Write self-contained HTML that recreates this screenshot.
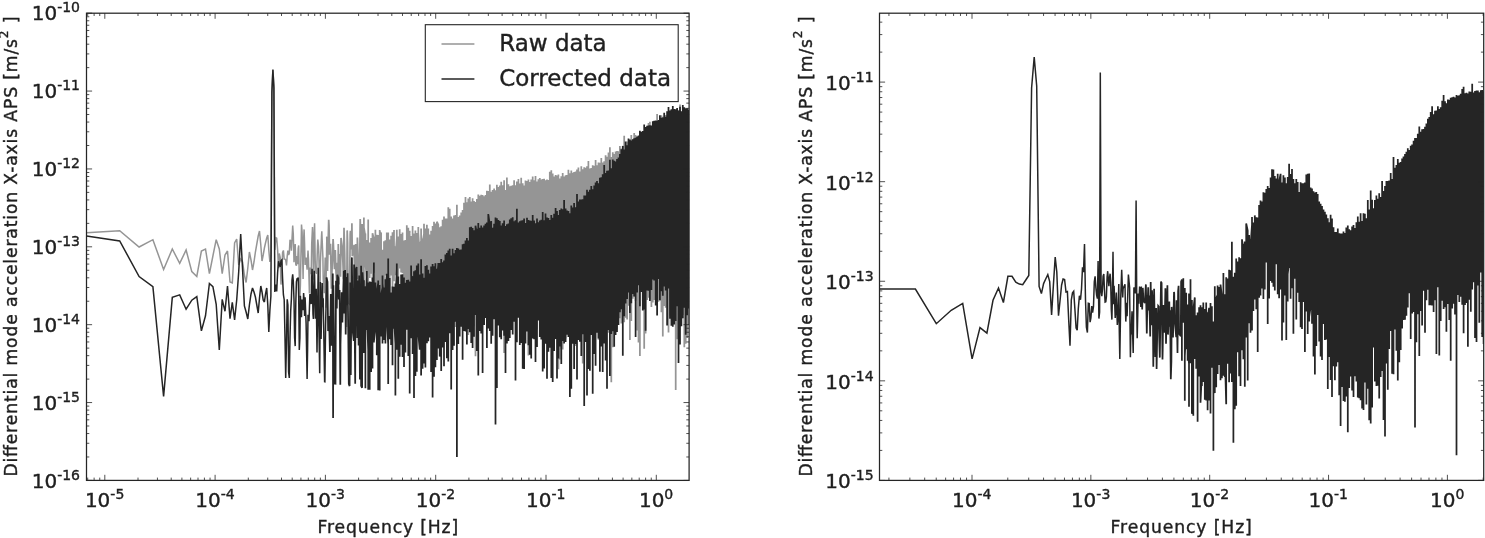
<!DOCTYPE html>
<html lang="en"><head><meta charset="utf-8"><title>Differential mode acceleration APS</title>
<style>html,body{margin:0;padding:0;background:#fff}body{width:1485px;height:538px;overflow:hidden}svg{display:block}text{stroke:#1f1f1f;stroke-width:.4px}</style></head>
<body>
<svg width="1485" height="538" viewBox="0 0 1485 538" font-family="'DejaVu Sans','Liberation Sans',sans-serif" fill="#1f1f1f">
<defs><clipPath id="cl"><rect x="86.50" y="13.20" width="602.60" height="467.20"/></clipPath><clipPath id="cr"><rect x="879.50" y="13.20" width="604.20" height="467.20"/></clipPath></defs>
<rect width="1485" height="538" fill="#fff"/>
<polyline clip-path="url(#cl)" fill="none" stroke="#959595" stroke-width="1.50" stroke-linejoin="miter" stroke-miterlimit="3" points="86.5,232.7 119.7,230.7 139.1,247.0 152.9,239.7 163.6,269.5 172.3,249.0 179.7,263.4 186.1,250.0 191.8,271.6 196.8,276.5 201.4,251.0 205.5,249.0 209.4,273.6 212.9,256.0 216.2,239.7 219.3,249.0 222.2,273.6 225.0,255.0 227.5,251.0 230.0,282.0 232.3,283.0 234.6,243.0 236.7,239.0 238.7,265.0 240.7,259.0 242.6,262.0 244.4,275.0 246.1,282.5 247.8,268.0 249.4,252.0 251.0,260.0 252.5,270.0 254.0,262.0 255.4,252.0 256.8,244.0 258.2,236.0 259.5,231.0 260.8,245.0 262.0,261.0 263.2,255.0 264.4,248.0 265.5,243.0 266.7,238.0 267.8,235.0 268.8,250.0 269.9,262.0 270.9,255.0 271.9,90.0 272.9,69.0 273.9,86.0 274.8,250.0 275.8,237.8 276.7,238.3 277.6,249.4 278.5,268.2 279.3,253.5 280.2,257.4 281.0,284.6 281.8,270.4 282.6,252.5 283.4,250.4 284.2,259.0 285.0,259.1 285.7,259.8 286.5,265.4 287.2,256.1 287.9,250.5 288.6,254.9 289.3,253.4 290.0,239.9 290.7,240.9 291.4,250.6 292.0,239.4 292.7,225.6 293.3,234.2 294.0,262.3 294.6,252.5 295.2,244.1 295.8,264.6 296.4,265.7 297.0,256.0 297.6,264.3 298.2,248.4 298.7,245.4 299.3,278.9 299.9,297.3 300.4,285.1 301.5,224.5 302.1,231.9 303.1,279.1 303.6,239.4 304.1,229.4 304.6,244.6 305.1,265.0 306.1,257.6 307.1,269.7 308.0,250.6 308.5,259.0 309.4,293.5 309.9,267.5 311.2,274.0 311.7,244.1 312.5,227.0 313.0,244.0 313.4,279.8 314.2,232.2 314.6,223.2 315.4,271.8 316.6,273.8 317.4,248.9 317.8,239.6 318.5,246.6 318.9,254.7 319.7,327.1 320.4,262.0 321.5,236.5 321.8,231.2 322.9,257.3 323.2,278.9 324.2,293.3 325.2,257.5 325.9,307.8 326.2,274.8 326.8,236.7"/>
<polyline clip-path="url(#cl)" fill="none" stroke="#959595" stroke-width="1.75" stroke-linejoin="miter" stroke-miterlimit="3" points="326.8,236.7 327.5,270.9 328.7,219.7 329.0,225.4 329.6,254.7 330.5,243.7 331.4,288.8 332.0,271.8 333.1,239.1 333.4,244.5 334.5,269.3 335.3,250.1 335.8,268.5 336.6,280.9 337.3,262.8 337.8,296.6 338.3,243.9 339.1,284.6 339.6,254.0 340.5,276.7 341.0,237.9 342.0,245.3 342.9,261.8 343.5,279.3 344.0,227.8 344.7,254.3 345.5,308.7 346.6,327.0 347.2,230.4 347.6,243.0 348.0,302.3 349.4,303.8 350.2,234.3 350.4,230.8 351.6,249.5 351.9,223.2 352.3,256.2 354.1,244.9 354.5,270.1 355.0,318.7 355.6,244.1 357.1,279.0 357.4,237.5 357.6,242.4 358.6,273.1 359.2,302.5 360.2,219.1 361.1,246.2 361.1,313.6 361.1,238.1 361.1,254.2 362.1,224.1 362.4,283.7 363.9,239.5 363.9,217.5 363.9,310.5 363.9,227.3 365.4,236.4 365.4,233.6 365.4,263.9 366.8,277.7 366.8,320.8 366.8,240.1 366.8,268.6 368.2,313.5 368.2,219.6 368.2,315.6 368.2,243.7 369.7,250.1 369.7,277.9 369.7,242.6 371.1,248.1 371.1,238.0 371.1,273.8 371.1,247.9 372.5,255.6 372.5,280.5 372.5,233.3 373.9,238.8 373.9,272.7 373.9,254.5 375.4,235.7 375.4,229.8 375.4,283.0 375.4,276.0 376.8,289.6 376.8,290.9 376.8,234.8 376.8,275.8 378.2,271.2 378.2,290.7 378.2,234.9 378.2,259.1 379.7,268.6 379.7,230.1 379.7,284.5 379.7,231.4 381.1,233.4 381.1,301.0 381.1,250.2 382.5,256.8 382.5,249.7 382.5,302.5 382.5,261.1 384.0,265.2 384.0,241.3 384.0,290.7 384.0,254.9 385.4,254.7 385.4,240.3 385.4,275.4 385.4,274.0 386.8,248.4 386.8,232.5 386.8,286.3 386.8,252.6 388.2,244.3 388.2,279.7 388.2,232.4 388.2,244.9 389.7,239.5 389.7,299.5 389.7,270.3 391.1,247.7 391.1,235.7 391.1,275.6 391.1,259.7 392.5,272.9 392.5,324.0 392.5,232.2 392.5,261.4 394.0,234.6 394.0,230.0 394.0,281.3 394.0,270.9 395.4,275.1 395.4,246.3 395.4,257.2 396.8,237.7 396.8,229.7 396.8,332.7 396.8,258.9 398.3,260.4 398.3,236.5 398.3,283.4 398.3,243.1 399.7,254.8 399.7,268.4 399.7,229.2 399.7,241.8 401.1,234.2 401.1,234.1 401.1,272.4 401.1,253.1 402.5,238.6 402.5,232.5 402.5,273.2 402.5,270.5 404.0,263.3 404.0,240.6 404.0,279.4 404.0,254.0 405.4,243.9 405.4,306.7 405.4,240.1 405.4,295.5 406.8,270.4 406.8,225.2 406.8,290.4 406.8,260.3 408.3,251.9 408.3,318.5 408.3,227.8 408.3,233.6 409.7,233.1 409.7,230.7 409.7,288.6 409.7,251.2 411.1,246.6 411.1,235.9 411.1,275.5 411.1,240.9 412.6,271.1 412.6,298.5 412.6,226.1 412.6,261.3 414.0,262.4 414.0,311.0 414.0,233.6 414.0,268.0 415.4,259.8 415.4,230.6 415.4,288.7 415.4,244.4 416.8,255.7 416.8,330.6 416.8,232.9 416.8,245.1 418.3,243.7 418.3,315.7 418.3,227.0 418.3,232.7 419.7,256.0 419.7,280.4 419.7,243.9 419.7,244.3 421.1,241.0 421.1,228.6 421.1,272.9 422.6,261.5 422.6,238.6 422.6,306.7 422.6,241.8 424.0,233.8 424.0,223.7 424.0,281.6 424.0,250.0 425.4,248.8 425.4,228.4 425.4,313.4 425.4,277.5 426.9,277.3 426.9,303.8 426.9,224.8 426.9,247.0 428.3,251.1 428.3,228.5 428.3,294.8 428.3,244.6 429.7,237.1 429.7,234.4 429.7,303.3 429.7,247.5 431.1,237.2 431.1,309.6 431.1,230.8 431.1,253.8 432.6,260.2 432.6,226.0 432.6,291.7 432.6,245.1 434.0,237.3 434.0,293.5 434.0,221.8 434.0,240.6 435.4,230.1 435.4,280.4 435.4,223.6 435.4,263.2 436.9,243.1 436.9,288.3 436.9,221.7 438.3,224.6 438.3,283.0 438.3,260.2 439.7,243.3 439.7,279.5 439.7,227.3 439.7,234.9 441.2,233.5 441.2,278.9 441.2,226.3 441.2,240.5 442.6,247.9 442.6,299.6 442.6,219.7 442.6,244.1 444.0,247.9 444.0,216.5 444.0,306.5 444.0,220.8 445.4,243.3 445.4,218.5 445.4,329.2 445.4,264.3 446.9,266.0 446.9,218.4 446.9,278.9 446.9,242.6 448.3,266.0 448.3,313.8 448.3,207.3 448.3,253.8 449.7,246.2 449.7,208.8 449.7,305.8 449.7,248.8 451.2,250.2 451.2,216.5 451.2,325.4 451.2,245.0 452.6,237.0 452.6,218.5 452.6,277.5 452.6,233.7 454.0,223.7 454.0,280.7 454.0,215.6 455.5,232.1 455.5,215.0 455.5,326.9 455.5,272.4 456.9,304.5 456.9,204.8 456.9,262.6 458.3,279.6 458.3,217.1 458.3,293.5 458.3,242.9 459.7,250.4 459.7,215.5 459.7,320.2 459.7,237.8 461.2,236.7 461.2,212.5 461.2,315.0 461.2,224.6 462.6,238.7 462.6,210.1 462.6,291.5 462.6,220.2 464.0,234.1 464.0,202.7 464.0,319.3 464.0,211.1 465.5,228.6 465.5,197.0 465.5,264.7 465.5,213.1 466.9,222.3 466.9,307.6 466.9,202.2 466.9,270.4 468.3,254.2 468.3,335.0 468.3,198.5 468.3,234.2 469.8,259.9 469.8,313.6 469.8,197.1 469.8,230.5 471.2,238.9 471.2,293.5 471.2,201.6 471.2,217.0 472.6,214.4 472.6,198.3 472.6,322.2 472.6,209.1 474.0,201.4 474.0,326.2 474.0,201.1 474.0,231.1 475.5,229.6 475.5,202.1 475.5,356.3 475.5,252.6 476.9,256.5 476.9,304.7 476.9,199.1 476.9,281.9 478.3,273.5 478.3,295.3 478.3,194.6 478.3,204.3 479.8,212.5 479.8,307.1 479.8,195.8 479.8,198.5 481.2,217.5 481.2,286.6 481.2,194.7 481.2,245.7 482.6,214.2 482.6,314.9 482.6,194.9 482.6,229.0 484.1,226.1 484.1,196.2 484.1,301.8 484.1,267.4 485.5,270.8 485.5,317.3 485.5,195.1 485.5,288.0 486.9,302.8 486.9,190.8 486.9,231.9 488.3,233.8 488.3,190.9 488.3,323.8 488.3,225.1 489.8,214.7 489.8,292.5 489.8,184.5 489.8,191.3 491.2,212.0 491.2,191.8 491.2,302.3 491.2,244.5 492.6,224.5 492.6,294.4 492.6,190.1 492.6,281.9 494.1,272.0 494.1,188.5 494.1,301.9 494.1,228.3 495.5,233.4 495.5,190.3 495.5,294.7 495.5,248.7 496.9,226.2 496.9,184.7 496.9,286.8 496.9,209.4 498.4,223.1 498.4,304.6 498.4,187.1 498.4,237.8 499.8,251.4 499.8,185.4 499.8,294.4 499.8,206.7 501.2,216.8 501.2,181.7 501.2,306.5 501.2,228.4 502.6,241.5 502.6,185.3 502.6,298.7 502.6,222.5 504.1,207.9 504.1,353.1 504.1,180.2 504.1,203.7 505.5,208.3 505.5,189.9 505.5,309.0 505.5,213.2 506.9,202.2 506.9,177.6 506.9,332.1 506.9,240.1 508.4,289.0 508.4,316.9 508.4,184.3 508.4,208.9 509.8,195.9 509.8,293.7 509.8,186.3 509.8,250.1 511.2,249.1 511.2,313.0 511.2,185.8 511.2,226.1 512.7,247.9 512.7,185.3 512.7,321.0 512.7,236.5 514.1,256.4 514.1,180.2 514.1,309.3 514.1,298.3 515.5,308.3 515.5,312.4 515.5,185.3 515.5,218.3 516.9,236.0 516.9,293.0 516.9,181.6 516.9,240.9 518.4,241.5 518.4,178.9 518.4,303.3 518.4,222.0 519.8,205.3 519.8,307.0 519.8,183.5 519.8,200.2 521.2,232.4 521.2,177.8 521.2,312.6 521.2,281.7 522.7,278.6 522.7,183.3 522.7,313.1 522.7,243.9 524.1,249.9 524.1,329.9 524.1,185.5 524.1,214.0 525.5,252.4 525.5,325.5 525.5,180.5 525.5,198.7 527.0,194.2 527.0,180.9 527.0,294.1 527.0,188.2 528.4,193.7 528.4,179.4 528.4,355.6 528.4,201.7 529.8,230.3 529.8,332.2 529.8,182.0 529.8,194.2 531.2,233.5 531.2,314.5 531.2,179.5 531.2,214.3 532.7,273.8 532.7,321.0 532.7,176.6 532.7,197.2 534.1,223.2 534.1,314.1 534.1,180.3 534.1,257.0 535.5,231.6 535.5,324.0 535.5,176.0 535.5,194.7 537.0,198.7 537.0,181.4 537.0,329.6 537.0,216.0 538.4,222.1 538.4,179.3 538.4,309.6 538.4,246.8 539.8,251.6 539.8,314.9 539.8,178.1 539.8,244.9 541.3,250.9 541.3,326.0 541.3,179.6 541.3,218.5 542.7,228.9 542.7,316.0 542.7,179.0 542.7,194.6 544.1,203.4 544.1,178.8 544.1,330.2 544.1,288.6 545.5,247.8 545.5,180.2 545.5,321.6 545.5,187.1 547.0,202.5 547.0,332.4 547.0,179.6 547.0,247.7 548.4,232.6 548.4,180.1 548.4,316.7 548.4,193.4 549.8,198.9 549.8,171.8 549.8,321.8 549.8,209.8 551.3,239.3 551.3,170.3 551.3,319.1 551.3,204.0 552.7,184.5 552.7,173.5 552.7,331.4 552.7,220.1 554.1,222.1 554.1,176.5 554.1,349.8 554.1,218.9 555.6,215.0 555.6,322.6 555.6,174.9 555.6,242.2 557.0,225.6 557.0,314.0 557.0,175.6 557.0,179.2 558.4,178.4 558.4,174.6 558.4,369.2 558.4,181.8 559.8,187.8 559.8,359.5 559.8,178.5 559.8,249.1 561.3,208.5 561.3,348.7 561.3,176.2 561.3,243.4 562.7,238.0 562.7,173.1 562.7,349.5 562.7,225.2 564.1,190.4 564.1,320.8 564.1,176.4 564.1,199.9 565.6,215.4 565.6,175.3 565.6,338.6 565.6,276.2 567.0,291.9 567.0,306.9 567.0,175.1 567.0,281.8 568.4,259.3 568.4,333.5 568.4,169.8 568.4,222.0 569.9,208.4 569.9,322.7 569.9,173.2 569.9,247.1 571.3,289.6 571.3,170.4 571.3,343.7 571.3,205.1 572.7,234.6 572.7,172.7 572.7,321.9 572.7,205.9 574.1,210.9 574.1,171.9 574.1,334.8 574.1,251.6 575.6,298.9 575.6,171.5 575.6,346.1 575.6,230.9 577.0,198.8 577.0,169.6 577.0,312.0 577.0,209.9 578.4,209.7 578.4,326.7 578.4,167.4 578.4,276.4 579.9,260.3 579.9,171.4 579.9,336.9 579.9,299.3 581.3,275.1 581.3,310.5 581.3,166.3 581.3,269.0 582.7,292.4 582.7,363.5 582.7,169.2 582.7,182.7 584.2,237.2 584.2,321.3 584.2,167.3 584.2,231.0 585.6,217.7 585.6,167.8 585.6,336.8 585.6,199.9 587.0,189.5 587.0,319.8 587.0,166.3 587.0,205.9 588.4,227.1 588.4,322.1 588.4,161.1 588.4,245.5 589.9,233.6 589.9,168.5 589.9,327.4 589.9,229.1 591.3,271.9 591.3,323.7 591.3,168.0 591.3,242.0 592.7,237.6 592.7,329.9 592.7,165.2 592.7,210.4 594.2,259.8 594.2,165.7 594.2,339.1 594.2,231.3 595.6,216.0 595.6,325.5 595.6,159.9 595.6,215.6 597.0,220.9 597.0,165.3 597.0,327.2 597.0,200.5 598.5,196.2 598.5,339.8 598.5,162.5 598.5,235.3 599.9,229.1 599.9,162.7 599.9,343.3 599.9,221.8 601.3,200.8 601.3,158.0 601.3,325.1 601.3,236.1 602.7,263.0 602.7,162.5 602.7,313.7 602.7,218.7 604.2,220.5 604.2,161.3 604.2,312.2 604.2,209.6 605.6,182.8 605.6,333.8 605.6,155.3 605.6,175.0 607.0,166.5 607.0,327.2 607.0,156.7 607.0,213.5 608.5,201.9 608.5,152.5 608.5,332.7 608.5,316.9 609.9,306.3 609.9,326.6 609.9,147.2 609.9,226.9 611.3,197.0 611.3,382.3 611.3,157.0 611.3,283.2 612.8,247.5 612.8,347.2 612.8,152.3 612.8,228.8 614.2,206.9 614.2,154.1 614.2,326.5 614.2,228.1 615.6,209.4 615.6,319.8 615.6,151.5 615.6,188.3 617.0,196.1 617.0,329.5 617.0,151.0 617.0,212.5 618.5,188.3 618.5,317.1 618.5,151.3 618.5,179.5 619.9,207.1 619.9,318.2 619.9,146.1 619.9,227.3 621.3,230.1 621.3,323.4 621.3,148.6 621.3,168.5 622.8,165.6 622.8,145.7 622.8,313.4 622.8,175.4 624.2,228.5 624.2,135.8 624.2,322.3 624.2,187.7 625.6,198.3 625.6,317.8 625.6,147.4 625.6,147.8 627.1,161.8 627.1,319.4 627.1,141.4 627.1,174.2 628.5,193.2 628.5,305.8 628.5,141.4 628.5,191.3 629.9,198.7 629.9,339.9 629.9,142.9 629.9,168.1 631.3,188.6 631.3,135.1 631.3,320.9 631.3,201.8 632.8,197.4 632.8,298.7 632.8,139.6 632.8,183.7 634.2,177.3 634.2,133.0 634.2,296.5 634.2,209.6 635.6,205.3 635.6,135.1 635.6,300.9 635.6,199.7 637.1,197.9 637.1,330.4 637.1,136.8 637.1,149.6 638.5,167.6 638.5,136.5 638.5,342.5 638.5,203.6 639.9,195.2 639.9,355.9 639.9,136.5 639.9,225.3 641.4,212.4 641.4,133.9 641.4,290.2 641.4,167.9 642.8,177.7 642.8,301.2 642.8,133.8 642.8,171.8 644.2,204.8 644.2,348.8 644.2,132.5 644.2,167.0 645.6,145.6 645.6,131.2 645.6,333.4 645.6,184.7 647.1,163.5 647.1,130.5 647.1,300.0 647.1,167.8 648.5,186.2 648.5,297.8 648.5,122.9 648.5,195.0 649.9,207.3 649.9,299.6 649.9,121.8 649.9,214.6 651.4,184.7 651.4,307.0 651.4,128.2 651.4,179.7 652.8,155.6 652.8,124.0 652.8,302.5 652.8,237.6 654.2,196.1 654.2,121.0 654.2,299.9 654.2,170.0 655.7,190.1 655.7,122.4 655.7,290.7 655.7,199.5 657.1,195.0 657.1,114.0 657.1,290.0 657.1,175.7 658.5,163.6 658.5,301.8 658.5,120.3 658.5,144.9 659.9,169.1 659.9,301.0 659.9,118.2 659.9,152.6 661.4,153.8 661.4,115.2 661.4,312.3 661.4,219.0 662.8,184.4 662.8,336.4 662.8,116.7 662.8,185.3 664.2,171.7 664.2,116.4 664.2,306.1 664.2,165.6 665.7,224.3 665.7,115.1 665.7,307.8 665.7,130.7 667.1,132.2 667.1,115.0 667.1,290.3 667.1,146.5 668.5,150.2 668.5,112.6 668.5,332.4 668.5,169.8 670.0,157.7 670.0,113.2 670.0,315.6 670.0,157.7 671.4,194.7 671.4,110.0 671.4,302.8 671.4,183.1 672.8,229.5 672.8,112.0 672.8,308.0 672.8,185.7 674.2,187.4 674.2,112.8 674.2,311.9 674.2,181.0 675.7,189.3 675.7,390.0 675.7,111.8 675.7,162.0 677.1,194.6 677.1,339.2 677.1,112.7 677.1,246.4 678.5,233.3 678.5,323.2 678.5,110.6 678.5,172.3 680.0,169.8 680.0,325.2 680.0,104.4 680.0,163.2 681.4,180.0 681.4,318.7 681.4,113.0 681.4,131.2 682.8,148.7 682.8,112.1 682.8,315.0 682.8,175.6 684.3,131.8 684.3,347.3 684.3,111.0 684.3,143.6 685.7,182.8 685.7,108.0 685.7,343.8 685.7,214.0 687.1,185.6 687.1,112.5 687.1,338.1 687.1,224.1 688.5,228.3 688.5,110.9 688.5,324.9 688.5,153.6"/>
<polyline clip-path="url(#cl)" fill="none" stroke="#252525" stroke-width="1.50" stroke-linejoin="miter" stroke-miterlimit="3" points="86.5,236.0 119.7,240.9 139.1,276.5 152.9,286.7 163.6,396.4 172.3,297.4 179.7,294.9 186.1,309.2 191.8,300.2 196.8,296.6 201.4,330.9 205.5,315.8 209.4,283.5 212.9,286.7 216.2,304.3 219.3,350.0 222.2,299.4 225.0,311.3 227.5,286.0 230.0,318.7 232.3,302.3 234.6,320.0 236.7,300.0 238.7,272.0 240.7,234.0 242.6,270.0 244.4,306.0 246.1,312.0 247.8,319.0 249.4,305.0 251.0,294.0 252.5,288.0 254.0,292.0 255.4,297.0 256.8,305.0 258.2,313.0 259.5,298.0 260.8,286.0 262.0,292.0 263.2,300.0 264.4,302.0 265.5,294.0 266.7,288.0 267.8,305.0 268.8,332.0 269.9,310.0 270.9,296.0 271.9,92.0 272.9,70.0 273.9,88.0 274.8,292.0 275.8,284.7 276.7,291.4 277.6,272.7 278.5,261.2 279.3,264.5 280.2,267.0 281.0,260.9 281.8,260.0 282.6,278.7 283.4,294.7 284.2,299.7 285.0,338.1 285.7,378.0 286.5,341.3 287.2,299.3 287.9,305.1 288.6,371.9 289.3,378.0 290.0,337.0 290.7,310.9 291.4,298.9 292.0,279.7 292.7,274.4 293.3,281.4 294.0,299.4 294.6,337.8 295.2,346.1 295.8,303.6 296.4,281.8 297.0,279.0 297.6,279.2 298.2,277.5 298.7,296.8 299.3,350.0 299.9,337.9 300.4,295.7 301.5,317.3 302.1,299.5 303.1,310.3 303.6,293.0 304.1,300.1 304.6,316.1 305.1,297.3 306.1,323.6 307.1,379.1 307.6,349.2 308.0,314.8 309.0,321.2 309.9,294.0 311.2,304.1 311.7,277.8 312.1,268.7 313.0,314.2 313.4,319.0 314.2,270.7 314.6,275.3 315.4,318.8 316.2,288.8 317.0,352.4 318.2,267.8 318.5,295.5 318.9,325.8 319.7,373.3 320.4,282.0 321.1,338.9 322.2,283.0 322.9,307.1 323.2,298.2 324.6,381.6 324.9,381.7 325.6,325.3 326.2,298.9 326.5,277.5"/>
<polyline clip-path="url(#cl)" fill="none" stroke="#252525" stroke-width="1.75" stroke-linejoin="miter" stroke-miterlimit="3" points="326.5,277.5 327.5,281.8 328.1,331.1 329.0,316.1 329.9,351.9 330.8,294.0 331.4,345.8 332.8,273.6 333.1,418.0 333.4,285.2 334.5,383.6 335.5,383.8 336.0,280.8 336.8,308.4 337.3,274.7 338.3,277.8 338.8,299.5 339.6,290.0 340.3,384.8 340.5,344.2 341.7,292.3 342.0,295.7 342.4,322.4 343.8,270.8 344.2,313.4 345.1,269.9 345.7,334.5 346.4,277.1 347.2,305.3 347.6,273.2 348.8,384.1 349.6,386.1 350.2,282.6 350.8,375.1 351.6,267.0 351.9,257.4 352.7,331.0 353.8,340.8 354.1,264.6 355.2,383.7 355.6,269.6 356.6,267.0 357.3,337.9 357.8,280.4 358.6,345.4 359.2,275.4 359.9,379.5 361.1,277.4 361.1,265.7 361.1,385.7 362.1,387.8 362.5,272.2 363.9,295.0 363.9,352.9 363.9,280.3 363.9,288.2 365.4,287.2 365.4,388.2 365.4,318.2 366.8,271.3 366.8,270.9 366.8,330.1 366.8,307.3 368.2,350.0 368.2,282.5 368.2,388.8 369.7,388.8 369.7,281.5 369.7,285.2 371.1,281.9 371.1,372.0 371.1,282.7 372.5,309.7 372.5,368.5 372.5,277.5 372.5,278.0 373.9,288.6 373.9,262.5 373.9,342.4 373.9,341.3 375.4,329.0 375.4,331.0 375.4,282.4 375.4,320.3 376.8,327.0 376.8,355.2 376.8,290.8 378.2,283.2 378.2,280.5 378.2,390.3 378.2,373.7 379.7,390.4 379.7,284.7 379.7,309.2 381.1,314.2 381.1,336.5 381.1,293.1 381.1,295.1 382.5,287.7 382.5,275.5 382.5,343.5 382.5,283.7 384.0,299.8 384.0,339.9 384.0,287.6 384.0,301.2 385.4,306.6 385.4,279.2 385.4,343.6 385.4,290.6 386.8,273.7 386.8,324.0 386.8,321.3 388.2,344.0 388.2,383.9 388.2,258.5 388.2,311.5 389.7,322.1 389.7,278.1 389.7,339.3 389.7,313.7 391.1,304.1 391.1,292.6 391.1,345.0 391.1,334.4 392.5,330.3 392.5,365.3 392.5,286.6 392.5,287.6 394.0,292.4 394.0,328.7 394.0,286.7 394.0,316.4 395.4,343.8 395.4,395.4 395.4,283.4 395.4,303.9 396.8,269.2 396.8,263.6 396.8,349.7 396.8,287.6 398.3,299.8 398.3,378.7 398.3,276.6 398.3,354.8 399.7,340.8 399.7,284.0 399.7,356.7 399.7,309.3 401.1,288.6 401.1,274.6 401.1,344.8 401.1,292.7 402.5,274.3 402.5,357.0 404.0,322.9 404.0,366.9 404.0,277.6 404.0,322.7 405.4,301.0 405.4,282.7 405.4,352.5 405.4,290.3 406.8,299.6 406.8,280.1 406.8,329.7 406.8,303.9 408.3,302.8 408.3,356.1 408.3,279.8 408.3,284.5 409.7,310.9 409.7,393.4 409.7,281.4 409.7,289.0 411.1,281.8 411.1,265.6 411.1,338.3 411.1,311.6 412.6,312.2 412.6,354.0 412.6,277.0 414.0,277.9 414.0,271.2 414.0,398.0 414.0,317.3 415.4,333.4 415.4,270.2 415.4,375.9 415.4,286.4 416.8,276.7 416.8,265.5 416.8,371.8 416.8,309.5 418.3,316.4 418.3,263.6 418.3,333.1 419.7,349.7 419.7,274.5 419.7,329.5 421.1,304.5 421.1,375.4 421.1,259.3 421.1,299.0 422.6,297.8 422.6,273.6 422.6,368.7 422.6,308.9 424.0,327.7 424.0,363.4 424.0,277.7 424.0,306.6 425.4,320.7 425.4,367.5 425.4,265.9 425.4,324.3 426.9,317.7 426.9,265.2 426.9,343.2 426.9,309.3 428.3,287.1 428.3,341.2 428.3,269.8 428.3,273.7 429.7,276.8 429.7,273.4 429.7,337.5 429.7,284.2 431.1,280.9 431.1,372.1 431.1,266.6 431.1,314.4 432.6,305.7 432.6,397.6 432.6,264.1 432.6,325.9 434.0,303.7 434.0,376.8 434.0,266.3 434.0,274.5 435.4,302.1 435.4,263.3 435.4,367.2 435.4,304.6 436.9,281.4 436.9,268.8 436.9,360.1 436.9,279.8 438.3,264.6 438.3,348.5 438.3,262.9 438.3,297.7 439.7,314.2 439.7,263.0 439.7,356.6 441.2,317.7 441.2,370.9 441.2,258.9 441.2,279.4 442.6,266.8 442.6,347.4 442.6,262.3 442.6,278.8 444.0,302.0 444.0,366.3 444.0,260.4 444.0,266.6 445.4,280.7 445.4,254.5 445.4,341.9 445.4,283.2 446.9,286.9 446.9,252.9 446.9,358.2 446.9,332.1 448.3,284.0 448.3,361.6 448.3,250.5 448.3,293.8 449.7,299.9 449.7,248.7 449.7,333.3 449.7,298.4 451.2,304.8 451.2,255.4 451.2,389.5 451.2,315.0 452.6,297.4 452.6,248.8 452.6,349.9 452.6,258.4 454.0,275.5 454.0,253.2 454.0,345.7 454.0,295.3 455.5,280.3 455.5,250.0 455.5,321.7 455.5,271.2 456.9,302.4 456.9,248.0 456.9,457.0 456.9,259.2 458.3,288.2 458.3,344.0 458.3,248.5 458.3,292.4 459.7,282.2 459.7,336.5 459.7,249.8 459.7,325.5 461.2,315.6 461.2,326.8 461.2,249.6 461.2,278.4 462.6,276.3 462.6,359.7 462.6,244.3 462.6,286.0 464.0,312.3 464.0,243.7 464.0,331.1 464.0,299.4 465.5,288.6 465.5,331.6 465.5,240.6 465.5,252.8 466.9,247.8 466.9,344.5 466.9,238.1 466.9,263.8 468.3,270.4 468.3,240.4 468.3,329.1 468.3,258.0 469.8,263.9 469.8,332.3 469.8,227.3 469.8,250.1 471.2,289.0 471.2,226.8 471.2,343.1 471.2,246.2 472.6,249.1 472.6,348.1 472.6,228.0 472.6,289.0 474.0,290.0 474.0,336.7 474.0,230.2 474.0,234.7 475.5,243.6 475.5,315.1 475.5,225.7 476.9,234.4 476.9,351.0 476.9,228.8 476.9,256.2 478.3,243.1 478.3,222.9 478.3,375.4 478.3,246.3 479.8,279.3 479.8,227.8 479.8,331.0 479.8,252.5 481.2,237.0 481.2,333.4 481.2,225.4 481.2,259.8 482.6,288.3 482.6,227.6 482.6,373.1 482.6,269.0 484.1,255.1 484.1,225.5 484.1,324.9 484.1,238.6 485.5,249.0 485.5,223.8 485.5,318.1 485.5,290.7 486.9,270.9 486.9,348.1 486.9,223.2 488.3,222.9 488.3,328.5 488.3,214.0 489.8,225.0 489.8,224.1 489.8,331.1 489.8,261.2 491.2,308.4 491.2,343.7 491.2,221.0 491.2,229.3 492.6,228.7 492.6,335.8 492.6,238.0 494.1,263.2 494.1,223.7 494.1,319.3 494.1,242.2 495.5,259.3 495.5,217.4 495.5,424.5 495.5,242.8 496.9,230.0 496.9,218.3 496.9,388.1 496.9,274.0 498.4,273.0 498.4,325.6 498.4,219.9 498.4,276.7 499.8,287.8 499.8,337.3 499.8,221.0 499.8,257.2 501.2,260.7 501.2,225.5 501.2,339.3 501.2,240.9 502.6,261.6 502.6,223.3 502.6,330.6 502.6,253.6 504.1,270.5 504.1,220.6 504.1,335.7 504.1,285.6 505.5,259.3 505.5,373.1 505.5,226.1 505.5,266.4 506.9,243.9 506.9,343.6 506.9,224.2 506.9,248.3 508.4,272.5 508.4,223.6 508.4,341.1 508.4,289.6 509.8,322.7 509.8,338.0 509.8,219.4 509.8,299.8 511.2,279.2 511.2,218.3 511.2,329.9 511.2,284.7 512.7,229.5 512.7,217.2 512.7,334.4 512.7,259.2 514.1,312.3 514.1,221.3 514.1,321.7 514.1,266.6 515.5,293.3 515.5,380.4 515.5,220.2 516.9,229.5 516.9,208.8 516.9,342.3 516.9,263.3 518.4,244.7 518.4,222.5 518.4,317.8 518.4,254.3 519.8,286.1 519.8,345.0 519.8,221.2 519.8,255.2 521.2,260.8 521.2,220.6 521.2,343.1 521.2,268.1 522.7,292.0 522.7,220.2 522.7,368.7 522.7,307.6 524.1,264.5 524.1,218.4 524.1,368.9 524.1,269.4 525.5,295.2 525.5,222.9 525.5,343.4 525.5,253.7 527.0,239.2 527.0,331.6 527.0,217.8 527.0,271.9 528.4,286.3 528.4,345.3 528.4,220.1 528.4,226.3 529.8,226.4 529.8,220.4 529.8,354.7 529.8,270.2 531.2,243.3 531.2,220.7 531.2,358.4 531.2,241.2 532.7,271.0 532.7,338.4 532.7,215.1 532.7,274.1 534.1,293.3 534.1,339.3 534.1,220.5 534.1,234.6 535.5,252.5 535.5,361.9 535.5,223.3 535.5,254.5 537.0,268.7 537.0,218.6 537.0,346.9 537.0,243.3 538.4,264.7 538.4,222.2 538.4,320.5 538.4,290.7 539.8,291.3 539.8,337.1 539.8,220.5 539.8,318.7 541.3,267.9 541.3,339.4 541.3,219.8 541.3,234.7 542.7,228.5 542.7,371.6 542.7,212.0 542.7,266.3 544.1,256.7 544.1,220.3 544.1,368.5 544.1,229.4 545.5,242.3 545.5,213.6 545.5,343.7 545.5,261.7 547.0,245.2 547.0,217.5 547.0,378.7 547.0,239.0 548.4,229.1 548.4,218.0 548.4,351.8 548.4,242.1 549.8,252.6 549.8,347.7 549.8,220.0 549.8,227.5 551.3,244.2 551.3,378.1 551.3,214.9 551.3,250.1 552.7,275.0 552.7,382.1 552.7,217.8 552.7,295.7 554.1,296.0 554.1,350.9 554.1,213.7 554.1,255.8 555.6,228.7 555.6,207.9 555.6,339.0 555.6,259.6 557.0,280.8 557.0,378.6 557.0,211.0 557.0,220.3 558.4,228.6 558.4,215.0 558.4,358.5 558.4,260.3 559.8,250.7 559.8,346.4 559.8,210.1 559.8,254.1 561.3,241.0 561.3,208.5 561.3,363.9 561.3,260.3 562.7,241.3 562.7,209.2 562.7,341.1 562.7,233.4 564.1,271.1 564.1,199.9 564.1,343.6 564.1,248.2 565.6,227.1 565.6,208.6 565.6,341.9 565.6,235.7 567.0,278.4 567.0,210.6 567.0,334.8 567.0,295.6 568.4,288.2 568.4,336.9 568.4,211.0 568.4,300.5 569.9,293.2 569.9,397.0 569.9,213.2 569.9,257.2 571.3,269.4 571.3,388.8 571.3,205.5 571.3,249.9 572.7,247.0 572.7,343.8 572.7,207.5 572.7,215.1 574.1,216.7 574.1,203.0 574.1,369.1 574.1,258.2 575.6,233.9 575.6,207.3 575.6,344.0 575.6,242.1 577.0,242.9 577.0,379.6 577.0,193.9 577.0,224.8 578.4,230.8 578.4,340.1 578.4,201.5 578.4,279.9 579.9,289.9 579.9,199.5 579.9,341.8 579.9,240.7 581.3,237.1 581.3,356.1 581.3,199.6 581.3,226.2 582.7,227.4 582.7,199.3 582.7,334.3 582.7,211.5 584.2,243.4 584.2,406.0 584.2,195.5 584.2,215.3 585.6,253.5 585.6,341.9 585.6,195.6 585.6,213.3 587.0,249.9 587.0,395.5 587.0,189.8 587.0,253.8 588.4,254.2 588.4,369.1 588.4,191.8 588.4,208.7 589.9,209.0 589.9,189.8 589.9,370.7 589.9,271.3 591.3,294.1 591.3,335.0 591.3,186.1 591.3,284.0 592.7,257.6 592.7,393.7 592.7,189.3 592.7,266.3 594.2,229.4 594.2,354.1 594.2,185.6 594.2,195.3 595.6,211.2 595.6,365.8 595.6,182.5 595.6,249.1 597.0,266.2 597.0,181.1 597.0,332.8 597.0,273.7 598.5,272.6 598.5,183.2 598.5,338.6 598.5,210.1 599.9,213.0 599.9,177.8 599.9,371.8 599.9,226.7 601.3,255.3 601.3,346.4 601.3,177.3 601.3,332.3 602.7,256.7 602.7,174.3 602.7,371.9 602.7,195.1 604.2,185.2 604.2,164.9 604.2,343.4 604.2,247.0 605.6,204.8 605.6,360.5 605.6,173.0 605.6,254.5 607.0,263.4 607.0,170.7 607.0,388.8 607.0,178.8 608.5,178.4 608.5,329.9 608.5,170.5 608.5,199.4 609.9,186.9 609.9,376.1 609.9,159.7 609.9,198.6 611.3,205.4 611.3,168.2 611.3,334.0 611.3,205.6 612.8,211.0 612.8,331.2 612.8,159.6 612.8,224.3 614.2,220.4 614.2,346.8 614.2,160.7 614.2,209.3 615.6,205.6 615.6,161.4 615.6,335.0 615.6,182.8 617.0,216.4 617.0,332.1 617.0,158.9 617.0,201.2 618.5,182.1 618.5,157.4 618.5,324.9 618.5,185.4 619.9,207.9 619.9,312.2 619.9,154.0 619.9,183.4 621.3,177.8 621.3,309.3 621.3,149.2 621.3,208.3 622.8,193.2 622.8,146.0 622.8,355.7 622.8,173.0 624.2,181.0 624.2,316.2 624.2,149.4 624.2,164.3 625.6,174.5 625.6,303.6 625.6,141.6 625.6,209.4 627.1,178.2 627.1,299.0 627.1,145.2 627.1,189.9 628.5,208.7 628.5,138.5 628.5,292.4 628.5,158.5 629.9,161.5 629.9,139.4 629.9,313.1 629.9,171.1 631.3,176.1 631.3,140.4 631.3,303.2 631.3,211.4 632.8,226.0 632.8,294.1 632.8,139.2 632.8,218.9 634.2,218.9 634.2,296.4 634.2,138.2 634.2,206.1 635.6,192.1 635.6,336.9 635.6,137.7 635.6,174.5 637.1,201.0 637.1,136.4 637.1,292.4 637.1,167.1 638.5,161.9 638.5,135.5 638.5,285.2 638.5,169.2 639.9,177.2 639.9,306.3 639.9,130.7 639.9,181.7 641.4,157.4 641.4,292.0 641.4,131.8 641.4,161.1 642.8,164.9 642.8,131.1 642.8,310.5 642.8,153.6 644.2,147.0 644.2,309.5 644.2,124.6 644.2,251.8 645.6,188.5 645.6,330.7 645.6,127.1 645.6,230.6 647.1,215.7 647.1,290.6 647.1,125.8 647.1,181.1 648.5,185.0 648.5,125.6 648.5,290.8 648.5,168.2 649.9,180.2 649.9,300.9 649.9,125.3 649.9,179.1 651.4,181.5 651.4,125.4 651.4,290.0 651.4,146.6 652.8,158.4 652.8,279.6 652.8,121.3 652.8,177.0 654.2,180.1 654.2,120.7 654.2,280.6 654.2,155.6 655.7,163.1 655.7,305.6 655.7,120.5 655.7,219.2 657.1,185.3 657.1,120.8 657.1,315.5 657.1,179.1 658.5,198.5 658.5,120.0 658.5,278.9 658.5,170.6 659.9,160.1 659.9,115.3 659.9,300.0 659.9,154.5 661.4,151.3 661.4,117.8 661.4,291.3 661.4,162.6 662.8,189.5 662.8,117.6 662.8,295.8 662.8,174.6 664.2,193.7 664.2,286.4 664.2,112.7 664.2,175.4 665.7,157.9 665.7,290.4 665.7,116.7 665.7,188.4 667.1,196.0 667.1,325.4 667.1,111.3 667.1,190.3 668.5,154.6 668.5,107.1 668.5,288.4 668.5,172.3 670.0,166.8 670.0,110.4 670.0,318.8 670.0,232.7 671.4,170.2 671.4,325.7 671.4,109.3 671.4,163.5 672.8,135.9 672.8,106.0 672.8,326.7 672.8,166.7 674.2,171.3 674.2,109.0 674.2,324.6 674.2,183.9 675.7,128.3 675.7,109.3 675.7,321.0 675.7,166.2 677.1,167.0 677.1,107.9 677.1,306.2 677.1,181.7 678.5,203.5 678.5,363.0 678.5,110.4 678.5,159.5 680.0,169.2 680.0,344.6 680.0,106.7 680.0,170.8 681.4,178.7 681.4,111.2 681.4,326.2 681.4,142.5 682.8,158.9 682.8,104.9 682.8,318.2 682.8,186.6 684.3,163.3 684.3,307.7 684.3,107.2 684.3,154.1 685.7,195.6 685.7,334.7 685.7,108.4 685.7,132.6 687.1,148.8 687.1,108.2 687.1,315.3 687.1,146.5 688.5,157.4 688.5,109.6 688.5,308.5 688.5,136.3"/>
<polyline clip-path="url(#cr)" fill="none" stroke="#252525" stroke-width="1.50" stroke-linejoin="miter" stroke-miterlimit="3" points="879.6,289.1 915.4,289.1 936.3,323.7 951.2,310.3 962.7,303.4 972.1,358.9 980.0,327.6 986.9,333.2 993.0,300.3 998.5,288.0 1003.4,302.5 1007.9,276.3 1012.0,276.3 1015.8,282.2 1019.4,284.1 1022.7,284.7 1025.8,280.0 1028.8,275.5 1031.6,88.0 1034.2,57.0 1036.7,86.0 1039.1,286.5 1041.4,293.6 1043.6,283.6 1045.7,279.0 1047.8,274.6 1049.7,281.6 1051.6,315.0 1053.4,285.0 1055.2,257.0 1056.8,272.0 1058.5,315.6 1060.1,300.0 1061.6,285.0 1063.1,279.0 1064.6,279.5 1066.0,292.0 1067.4,291.5 1068.7,320.0 1070.0,345.8 1071.3,300.0 1072.5,292.8 1073.7,291.3 1074.9,309.2 1076.1,328.1 1077.2,330.2 1078.3,308.8 1079.4,295.7 1080.5,299.8 1081.5,289.1 1082.5,267.4 1083.5,272.1 1084.5,244.0 1085.5,299.8 1086.4,327.1 1087.4,332.5 1088.3,303.3 1089.2,303.6 1090.1,322.2 1090.9,318.0 1091.8,306.0 1092.6,312.7 1093.5,306.4 1094.3,281.9 1095.1,276.3 1095.9,288.0 1096.6,295.1 1097.4,298.7 1098.1,261.0 1098.9,318.6 1099.6,312.1 1100.3,72.4 1101.1,292.0 1101.8,296.1 1102.5,288.6 1103.1,276.1 1103.8,274.1 1104.5,291.1 1105.1,302.1 1105.8,301.8 1106.4,296.6 1107.1,276.8 1107.7,271.2 1108.3,279.3 1108.9,286.1 1109.5,278.2 1110.1,273.7 1110.7,282.3 1111.3,309.5 1111.9,319.6 1112.4,296.1 1113.0,251.7 1113.6,304.2 1114.1,285.9 1115.2,317.9 1115.7,310.4 1116.3,292.4 1117.3,325.0 1117.8,320.1 1118.8,284.0 1119.3,331.3 1119.8,358.9 1120.8,295.5 1121.7,269.8 1122.2,283.6 1122.7,297.5 1123.1,288.6 1125.0,284.3 1125.4,307.0 1125.8,321.6 1126.7,302.7 1127.1,316.2 1128.0,287.3 1128.4,274.6 1129.6,287.6 1130.4,357.3 1130.8,334.5 1131.2,334.0 1132.0,311.3 1133.2,353.0 1133.9,288.1 1135.0,287.7 1135.4,293.5 1136.1,200.5 1136.8,310.0 1137.2,338.3 1138.2,293.6 1138.9,303.6 1139.6,287.0 1139.9,286.9"/>
<polyline clip-path="url(#cr)" fill="none" stroke="#252525" stroke-width="1.75" stroke-linejoin="miter" stroke-miterlimit="3" points="1139.9,286.9 1140.9,306.9 1141.2,286.5 1142.2,309.5 1142.8,287.9 1143.5,300.9 1145.0,302.9 1145.3,293.8 1145.9,284.4 1146.8,333.6 1147.1,316.8 1148.2,287.3 1148.8,310.4 1149.3,295.5 1150.2,336.5 1150.7,281.9 1151.2,325.2 1152.0,290.3 1152.8,305.7 1153.3,366.7 1154.1,288.7 1155.3,356.9 1156.1,307.9 1156.6,369.1 1157.3,329.1 1158.2,305.9 1158.7,306.5 1159.2,337.4 1159.8,357.6 1161.0,281.5 1161.6,283.0 1162.5,359.5 1162.7,350.0 1163.3,304.9 1164.4,332.7 1165.4,288.2 1165.6,296.4 1166.0,343.7 1167.4,285.2 1168.0,334.6 1169.3,301.6 1169.7,326.7 1170.1,310.3 1170.8,379.2 1171.4,361.2 1171.7,306.9 1173.0,337.5 1174.0,292.0 1174.2,293.2 1174.7,319.6 1176.2,337.2 1176.5,300.3 1177.5,353.0 1178.1,291.4 1178.6,285.8 1179.1,333.8 1180.8,336.2 1181.1,281.7 1181.9,279.5 1181.9,360.7 1181.9,292.3 1183.3,280.9 1183.3,278.2 1183.3,322.8 1183.3,304.9 1184.8,289.2 1184.8,287.9 1184.8,400.8 1184.8,355.9 1186.2,329.4 1186.2,292.7 1186.2,349.1 1187.6,338.4 1187.6,304.5 1187.6,360.8 1187.6,346.9 1189.0,363.8 1189.0,406.8 1189.0,293.6 1189.0,311.3 1190.5,363.1 1190.5,279.2 1190.5,298.5 1191.9,315.1 1191.9,300.0 1191.9,413.8 1193.3,409.1 1193.3,415.8 1193.3,309.6 1194.8,297.4 1194.8,359.1 1194.8,328.5 1196.2,328.2 1196.2,315.2 1196.2,368.7 1196.2,363.7 1197.6,334.3 1197.6,312.6 1197.6,421.7 1197.6,341.3 1199.1,314.1 1199.1,307.3 1199.1,376.5 1200.5,356.7 1200.5,305.3 1200.5,402.7 1201.9,372.3 1201.9,307.3 1201.9,385.9 1201.9,340.1 1203.3,382.0 1203.3,302.5 1203.3,311.6 1204.8,309.2 1204.8,399.8 1204.8,338.0 1206.2,357.3 1206.2,302.4 1206.2,400.4 1206.2,326.5 1207.6,312.3 1207.6,410.3 1207.6,319.4 1209.1,307.8 1209.1,400.4 1209.1,343.7 1210.5,388.8 1210.5,413.4 1210.5,302.9 1210.5,345.4 1211.9,336.8 1211.9,367.7 1211.9,306.2 1211.9,332.5 1213.4,346.0 1213.4,321.6 1213.4,450.8 1213.4,357.5 1214.8,393.1 1214.8,286.3 1214.8,371.8 1216.2,381.4 1216.2,387.2 1216.2,298.1 1217.6,294.9 1217.6,373.9 1217.6,285.4 1217.6,325.2 1219.1,320.7 1219.1,286.9 1219.1,365.1 1219.1,322.1 1220.5,312.8 1220.5,380.2 1220.5,284.5 1221.9,296.2 1221.9,378.2 1221.9,347.5 1223.4,337.7 1223.4,272.9 1223.4,375.7 1223.4,322.2 1224.8,336.1 1224.8,294.3 1224.8,377.1 1224.8,351.4 1226.2,404.3 1226.2,277.2 1226.2,306.1 1227.7,278.4 1227.7,363.7 1227.7,309.7 1229.1,356.2 1229.1,382.3 1229.1,269.7 1229.1,278.6 1230.5,280.2 1230.5,270.2 1230.5,373.4 1230.5,327.5 1231.9,359.0 1231.9,241.8 1231.9,381.9 1231.9,314.5 1233.4,295.3 1233.4,442.8 1233.4,276.8 1233.4,294.5 1234.8,331.1 1234.8,272.7 1234.8,409.3 1234.8,274.1 1236.2,278.5 1236.2,258.6 1236.2,405.7 1236.2,342.9 1237.7,325.8 1237.7,261.5 1237.7,352.3 1237.7,273.9 1239.1,297.8 1239.1,257.2 1239.1,376.2 1239.1,279.2 1240.5,269.1 1240.5,258.2 1240.5,385.9 1240.5,303.1 1242.0,311.3 1242.0,350.2 1242.0,239.3 1243.4,251.2 1243.4,359.2 1243.4,243.8 1243.4,247.6 1244.8,248.4 1244.8,386.8 1244.8,241.4 1244.8,286.1 1246.2,277.8 1246.2,337.5 1246.2,223.5 1247.7,230.6 1247.7,380.4 1247.7,245.3 1249.1,261.4 1249.1,323.2 1249.1,235.0 1249.1,271.7 1250.5,269.7 1250.5,239.0 1250.5,332.7 1250.5,246.2 1252.0,224.7 1252.0,216.9 1252.0,330.5 1252.0,248.9 1253.4,222.5 1253.4,311.1 1253.4,278.6 1254.8,242.9 1254.8,299.5 1254.8,215.4 1256.3,256.5 1256.3,309.3 1256.3,217.3 1256.3,256.4 1257.7,232.2 1257.7,217.6 1257.7,352.0 1257.7,240.1 1259.1,223.1 1259.1,204.9 1259.1,297.7 1259.1,246.5 1260.5,226.1 1260.5,200.6 1260.5,295.6 1260.5,239.6 1262.0,233.5 1262.0,201.6 1262.0,288.5 1262.0,208.0 1263.4,201.1 1263.4,299.0 1263.4,192.2 1263.4,259.6 1264.8,248.0 1264.8,289.4 1264.8,192.8 1264.8,205.4 1266.3,198.8 1266.3,262.5 1266.3,189.0 1266.3,247.1 1267.7,253.7 1267.7,185.9 1267.7,323.9 1267.7,264.2 1269.1,254.1 1269.1,298.6 1269.1,188.1 1269.1,195.8 1270.6,215.4 1270.6,281.0 1270.6,177.6 1270.6,257.4 1272.0,246.2 1272.0,282.8 1272.0,169.3 1272.0,233.2 1273.4,181.0 1273.4,169.6 1273.4,286.8 1273.4,237.3 1274.8,246.5 1274.8,175.9 1274.8,290.6 1274.8,211.3 1276.3,186.2 1276.3,178.4 1276.3,264.3 1276.3,203.8 1277.7,186.3 1277.7,173.7 1277.7,294.3 1277.7,231.7 1279.1,218.3 1279.1,298.3 1279.1,181.9 1280.6,173.8 1280.6,289.5 1280.6,252.0 1282.0,198.1 1282.0,182.6 1282.0,340.6 1282.0,222.2 1283.4,179.8 1283.4,175.2 1283.4,322.4 1283.4,213.1 1284.9,240.6 1284.9,295.5 1284.9,177.4 1284.9,281.3 1286.3,271.6 1286.3,340.0 1286.3,183.3 1286.3,212.0 1287.7,199.8 1287.7,177.1 1287.7,301.6 1287.7,274.2 1289.1,261.4 1289.1,267.9 1289.1,163.8 1289.1,211.6 1290.6,198.7 1290.6,298.8 1290.6,174.1 1290.6,266.9 1292.0,245.9 1292.0,168.9 1292.0,288.2 1292.0,248.8 1293.4,243.2 1293.4,333.7 1293.4,178.9 1293.4,222.2 1294.9,268.8 1294.9,183.3 1294.9,278.7 1294.9,195.0 1296.3,191.6 1296.3,319.6 1296.3,179.1 1296.3,185.9 1297.7,206.9 1297.7,182.1 1297.7,292.7 1297.7,209.5 1299.2,193.3 1299.2,191.9 1299.2,302.1 1299.2,266.0 1300.6,256.8 1300.6,182.3 1300.6,327.3 1300.6,199.2 1302.0,208.0 1302.0,183.2 1302.0,329.0 1302.0,218.2 1303.4,248.2 1303.4,183.2 1303.4,301.9 1303.4,228.5 1304.9,254.8 1304.9,352.1 1304.9,182.5 1304.9,283.4 1306.3,259.1 1306.3,311.6 1306.3,174.4 1306.3,258.5 1307.7,283.7 1307.7,173.7 1307.7,333.9 1307.7,254.5 1309.2,240.8 1309.2,321.4 1309.2,173.5 1309.2,316.9 1310.6,307.0 1310.6,187.5 1310.6,221.2 1312.0,189.8 1312.0,188.6 1312.0,323.7 1312.0,224.4 1313.5,273.9 1313.5,356.5 1313.5,191.3 1313.5,237.9 1314.9,221.1 1314.9,192.6 1314.9,374.6 1314.9,310.1 1316.3,244.4 1316.3,191.9 1316.3,346.1 1316.3,279.4 1317.7,266.9 1317.7,314.9 1317.7,193.9 1317.7,271.6 1319.2,266.0 1319.2,201.5 1319.2,341.4 1319.2,267.9 1320.6,288.5 1320.6,203.8 1320.6,356.4 1320.6,263.8 1322.0,259.0 1322.0,359.9 1322.0,206.1 1322.0,285.4 1323.5,307.1 1323.5,209.5 1323.5,324.0 1323.5,264.8 1324.9,259.1 1324.9,340.0 1324.9,211.7 1324.9,256.5 1326.3,258.9 1326.3,214.4 1326.3,339.6 1326.3,271.8 1327.8,273.9 1327.8,389.1 1327.8,218.3 1327.8,228.1 1329.2,229.4 1329.2,222.2 1329.2,357.0 1329.2,294.1 1330.6,337.2 1330.6,380.1 1330.6,214.7 1330.6,273.4 1332.0,263.0 1332.0,397.0 1332.0,218.5 1332.0,290.0 1333.5,278.4 1333.5,227.3 1333.5,366.2 1333.5,284.8 1334.9,305.4 1334.9,380.2 1334.9,232.0 1334.9,311.3 1336.3,282.1 1336.3,232.1 1336.3,366.6 1336.3,251.0 1337.8,257.8 1337.8,228.6 1337.8,362.3 1337.8,295.2 1339.2,296.5 1339.2,233.2 1339.2,395.3 1339.2,326.2 1340.6,264.8 1340.6,425.9 1340.6,233.6 1340.6,259.8 1342.1,255.4 1342.1,233.6 1342.1,387.0 1342.1,253.8 1343.5,262.6 1343.5,231.6 1343.5,401.0 1343.5,292.6 1344.9,264.9 1344.9,232.9 1344.9,401.8 1344.9,304.9 1346.3,283.9 1346.3,396.5 1346.3,227.6 1346.3,272.9 1347.8,255.2 1347.8,225.4 1347.8,432.3 1347.8,303.9 1349.2,284.6 1349.2,387.9 1349.2,229.3 1349.2,235.0 1350.6,247.3 1350.6,376.4 1350.6,230.3 1350.6,340.9 1352.1,332.6 1352.1,390.4 1352.1,226.4 1352.1,344.4 1353.5,286.5 1353.5,397.1 1353.5,224.9 1353.5,276.7 1354.9,242.6 1354.9,376.2 1354.9,228.1 1354.9,265.3 1356.4,244.4 1356.4,222.3 1356.4,381.4 1356.4,228.6 1357.8,230.4 1357.8,397.6 1357.8,216.6 1357.8,289.8 1359.2,301.5 1359.2,221.8 1359.2,398.3 1359.2,258.5 1360.6,242.6 1360.6,400.3 1360.6,213.3 1360.6,284.5 1362.1,255.9 1362.1,220.9 1362.1,408.5 1362.1,243.8 1363.5,267.4 1363.5,213.2 1363.5,410.0 1363.5,251.6 1364.9,291.3 1364.9,382.6 1364.9,213.8 1364.9,306.5 1366.4,324.7 1366.4,218.2 1366.4,404.6 1366.4,237.4 1367.8,231.0 1367.8,388.8 1367.8,200.0 1367.8,270.5 1369.2,235.9 1369.2,420.2 1369.2,209.6 1369.2,262.6 1370.7,290.2 1370.7,423.4 1370.7,190.5 1370.7,245.0 1372.1,232.9 1372.1,407.4 1372.1,199.8 1372.1,241.5 1373.5,245.9 1373.5,347.6 1373.5,208.3 1373.5,263.8 1374.9,238.3 1374.9,381.6 1374.9,200.1 1374.9,206.0 1376.4,210.4 1376.4,386.0 1376.4,195.6 1376.4,232.7 1377.8,225.0 1377.8,198.7 1377.8,385.7 1377.8,307.3 1379.2,263.2 1379.2,398.5 1379.2,193.3 1379.2,240.5 1380.7,232.0 1380.7,377.1 1380.7,196.9 1380.7,314.8 1382.1,259.3 1382.1,370.9 1382.1,181.1 1382.1,239.9 1383.5,270.8 1383.5,191.1 1383.5,420.1 1383.5,241.5 1385.0,224.2 1385.0,436.5 1385.0,186.1 1385.0,263.7 1386.4,323.6 1386.4,363.5 1386.4,181.1 1386.4,282.9 1387.8,230.2 1387.8,181.1 1387.8,389.8 1387.8,229.4 1389.2,212.6 1389.2,349.1 1389.2,180.4 1389.2,299.2 1390.7,242.3 1390.7,330.9 1390.7,172.9 1390.7,305.0 1392.1,277.4 1392.1,178.9 1392.1,373.7 1392.1,354.9 1393.5,273.4 1393.5,374.2 1393.5,156.9 1393.5,215.0 1395.0,220.5 1395.0,329.4 1395.0,167.8 1395.0,214.2 1396.4,210.8 1396.4,164.9 1396.4,350.8 1396.4,256.1 1397.8,239.3 1397.8,158.9 1397.8,380.5 1397.8,221.9 1399.3,236.4 1399.3,162.8 1399.3,362.3 1399.3,189.7 1400.7,199.3 1400.7,349.9 1400.7,161.9 1400.7,203.3 1402.1,217.4 1402.1,328.5 1402.1,158.5 1402.1,207.9 1403.5,209.1 1403.5,320.1 1403.5,156.5 1403.5,201.8 1405.0,160.6 1405.0,319.7 1405.0,153.9 1405.0,212.6 1406.4,269.4 1406.4,315.8 1406.4,151.7 1406.4,206.5 1407.8,256.8 1407.8,148.2 1407.8,307.4 1407.8,189.5 1409.3,236.5 1409.3,293.2 1409.3,150.1 1409.3,250.7 1410.7,277.1 1410.7,145.7 1410.7,338.9 1410.7,198.1 1412.1,174.0 1412.1,144.4 1412.1,313.4 1412.1,184.2 1413.6,179.4 1413.6,312.0 1413.6,140.8 1413.6,178.3 1415.0,193.1 1415.0,427.6 1415.0,137.9 1415.0,189.8 1416.4,154.2 1416.4,342.2 1416.4,138.0 1416.4,173.2 1417.8,153.5 1417.8,314.2 1417.8,133.7 1417.8,204.3 1419.3,209.9 1419.3,126.6 1419.3,355.9 1419.3,183.2 1420.7,179.0 1420.7,131.8 1420.7,311.0 1420.7,208.1 1422.1,219.8 1422.1,325.5 1422.1,129.2 1422.1,207.9 1423.6,201.6 1423.6,290.7 1423.6,129.0 1423.6,200.7 1425.0,181.4 1425.0,126.7 1425.0,332.7 1425.0,172.5 1426.4,185.0 1426.4,300.2 1426.4,123.5 1426.4,206.4 1427.9,216.0 1427.9,289.8 1427.9,118.7 1427.9,198.8 1429.3,167.7 1429.3,305.2 1429.3,117.1 1429.3,122.4 1430.7,135.3 1430.7,305.3 1430.7,111.9 1430.7,228.5 1432.1,193.7 1432.1,106.2 1432.1,305.4 1432.1,165.7 1433.6,147.3 1433.6,311.9 1433.6,114.3 1433.6,168.9 1435.0,150.2 1435.0,300.2 1435.0,110.8 1435.0,133.4 1436.4,171.4 1436.4,354.0 1436.4,110.5 1436.4,156.5 1437.9,155.1 1437.9,287.3 1437.9,106.2 1437.9,214.6 1439.3,212.0 1439.3,108.9 1439.3,355.4 1439.3,134.7 1440.7,129.0 1440.7,107.3 1440.7,320.9 1440.7,185.0 1442.2,140.0 1442.2,100.8 1442.2,300.7 1442.2,162.0 1443.6,198.7 1443.6,95.0 1443.6,308.9 1443.6,133.5 1445.0,120.7 1445.0,307.2 1445.0,101.2 1445.0,152.6 1446.4,146.0 1446.4,103.2 1446.4,331.7 1446.4,125.8 1447.9,146.7 1447.9,304.0 1447.9,99.5 1447.9,170.5 1449.3,185.9 1449.3,99.7 1449.3,320.1 1449.3,120.8 1450.7,134.0 1450.7,97.8 1450.7,360.7 1450.7,159.4 1452.2,163.7 1452.2,97.2 1452.2,308.4 1452.2,189.1 1453.6,144.3 1453.6,303.7 1453.6,96.7 1453.6,145.3 1455.0,179.8 1455.0,314.4 1455.0,97.4 1455.0,163.6 1456.5,147.7 1456.5,455.3 1456.5,94.9 1456.5,164.1 1457.9,238.5 1457.9,95.7 1457.9,294.9 1457.9,129.4 1459.3,169.3 1459.3,302.1 1459.3,95.2 1459.3,230.5 1460.7,247.6 1460.7,93.8 1460.7,296.8 1460.7,180.7 1462.2,202.4 1462.2,304.7 1462.2,89.0 1462.2,121.3 1463.6,120.7 1463.6,86.7 1463.6,333.3 1463.6,160.3 1465.0,187.2 1465.0,305.0 1465.0,93.3 1465.0,128.3 1466.5,124.0 1466.5,302.9 1466.5,92.8 1466.5,115.1 1467.9,108.0 1467.9,93.4 1467.9,346.8 1467.9,162.9 1469.3,166.5 1469.3,91.5 1469.3,299.8 1469.3,135.3 1470.8,148.3 1470.8,311.8 1470.8,91.7 1470.8,201.7 1472.2,187.6 1472.2,289.4 1472.2,83.7 1472.2,132.1 1473.6,126.4 1473.6,92.5 1473.6,282.3 1473.6,156.6 1475.0,128.2 1475.0,90.9 1475.0,338.0 1475.0,198.1 1476.5,202.7 1476.5,341.9 1476.5,90.5 1476.5,176.5 1477.9,182.6 1477.9,90.5 1477.9,285.4 1477.9,122.0 1479.3,132.9 1479.3,92.3 1479.3,322.7 1479.3,168.2 1480.8,173.7 1480.8,90.2 1480.8,272.6 1480.8,153.7 1482.2,133.2 1482.2,337.0 1482.2,90.1 1482.2,177.5 1483.6,126.9 1483.6,91.7 1483.6,343.9 1483.6,143.7"/>
<path d="M87.71 480.40v-2.80M87.71 13.20v2.80M94.11 480.40v-2.80M94.11 13.20v2.80M99.75 480.40v-2.80M99.75 13.20v2.80M104.80 480.40v-5.60M104.80 13.20v5.60M138.00 480.40v-2.80M138.00 13.20v2.80M157.43 480.40v-2.80M157.43 13.20v2.80M171.21 480.40v-2.80M171.21 13.20v2.80M181.90 480.40v-2.80M181.90 13.20v2.80M190.63 480.40v-2.80M190.63 13.20v2.80M198.01 480.40v-2.80M198.01 13.20v2.80M204.41 480.40v-2.80M204.41 13.20v2.80M210.05 480.40v-2.80M210.05 13.20v2.80M215.10 480.40v-5.60M215.10 13.20v5.60M248.30 480.40v-2.80M248.30 13.20v2.80M267.73 480.40v-2.80M267.73 13.20v2.80M281.51 480.40v-2.80M281.51 13.20v2.80M292.20 480.40v-2.80M292.20 13.20v2.80M300.93 480.40v-2.80M300.93 13.20v2.80M308.31 480.40v-2.80M308.31 13.20v2.80M314.71 480.40v-2.80M314.71 13.20v2.80M320.35 480.40v-2.80M320.35 13.20v2.80M325.40 480.40v-5.60M325.40 13.20v5.60M358.60 480.40v-2.80M358.60 13.20v2.80M378.03 480.40v-2.80M378.03 13.20v2.80M391.81 480.40v-2.80M391.81 13.20v2.80M402.50 480.40v-2.80M402.50 13.20v2.80M411.23 480.40v-2.80M411.23 13.20v2.80M418.61 480.40v-2.80M418.61 13.20v2.80M425.01 480.40v-2.80M425.01 13.20v2.80M430.65 480.40v-2.80M430.65 13.20v2.80M435.70 480.40v-5.60M435.70 13.20v5.60M468.90 480.40v-2.80M468.90 13.20v2.80M488.33 480.40v-2.80M488.33 13.20v2.80M502.11 480.40v-2.80M502.11 13.20v2.80M512.80 480.40v-2.80M512.80 13.20v2.80M521.53 480.40v-2.80M521.53 13.20v2.80M528.91 480.40v-2.80M528.91 13.20v2.80M535.31 480.40v-2.80M535.31 13.20v2.80M540.95 480.40v-2.80M540.95 13.20v2.80M546.00 480.40v-5.60M546.00 13.20v5.60M579.20 480.40v-2.80M579.20 13.20v2.80M598.63 480.40v-2.80M598.63 13.20v2.80M612.41 480.40v-2.80M612.41 13.20v2.80M623.10 480.40v-2.80M623.10 13.20v2.80M631.83 480.40v-2.80M631.83 13.20v2.80M639.21 480.40v-2.80M639.21 13.20v2.80M645.61 480.40v-2.80M645.61 13.20v2.80M651.25 480.40v-2.80M651.25 13.20v2.80M656.30 480.40v-5.60M656.30 13.20v5.60M86.50 480.42h5.60M689.10 480.42h-5.60M86.50 456.98h2.80M689.10 456.98h-2.80M86.50 443.27h2.80M689.10 443.27h-2.80M86.50 433.54h2.80M689.10 433.54h-2.80M86.50 425.99h2.80M689.10 425.99h-2.80M86.50 419.83h2.80M689.10 419.83h-2.80M86.50 414.61h2.80M689.10 414.61h-2.80M86.50 410.10h2.80M689.10 410.10h-2.80M86.50 406.11h2.80M689.10 406.11h-2.80M86.50 402.55h5.60M689.10 402.55h-5.60M86.50 379.11h2.80M689.10 379.11h-2.80M86.50 365.40h2.80M689.10 365.40h-2.80M86.50 355.67h2.80M689.10 355.67h-2.80M86.50 348.12h2.80M689.10 348.12h-2.80M86.50 341.96h2.80M689.10 341.96h-2.80M86.50 336.74h2.80M689.10 336.74h-2.80M86.50 332.23h2.80M689.10 332.23h-2.80M86.50 328.24h2.80M689.10 328.24h-2.80M86.50 324.68h5.60M689.10 324.68h-5.60M86.50 301.24h2.80M689.10 301.24h-2.80M86.50 287.53h2.80M689.10 287.53h-2.80M86.50 277.80h2.80M689.10 277.80h-2.80M86.50 270.25h2.80M689.10 270.25h-2.80M86.50 264.09h2.80M689.10 264.09h-2.80M86.50 258.87h2.80M689.10 258.87h-2.80M86.50 254.36h2.80M689.10 254.36h-2.80M86.50 250.37h2.80M689.10 250.37h-2.80M86.50 246.81h5.60M689.10 246.81h-5.60M86.50 223.37h2.80M689.10 223.37h-2.80M86.50 209.66h2.80M689.10 209.66h-2.80M86.50 199.93h2.80M689.10 199.93h-2.80M86.50 192.38h2.80M689.10 192.38h-2.80M86.50 186.22h2.80M689.10 186.22h-2.80M86.50 181.00h2.80M689.10 181.00h-2.80M86.50 176.49h2.80M689.10 176.49h-2.80M86.50 172.50h2.80M689.10 172.50h-2.80M86.50 168.94h5.60M689.10 168.94h-5.60M86.50 145.50h2.80M689.10 145.50h-2.80M86.50 131.79h2.80M689.10 131.79h-2.80M86.50 122.06h2.80M689.10 122.06h-2.80M86.50 114.51h2.80M689.10 114.51h-2.80M86.50 108.35h2.80M689.10 108.35h-2.80M86.50 103.13h2.80M689.10 103.13h-2.80M86.50 98.62h2.80M689.10 98.62h-2.80M86.50 94.63h2.80M689.10 94.63h-2.80M86.50 91.07h5.60M689.10 91.07h-5.60M86.50 67.63h2.80M689.10 67.63h-2.80M86.50 53.92h2.80M689.10 53.92h-2.80M86.50 44.19h2.80M689.10 44.19h-2.80M86.50 36.64h2.80M689.10 36.64h-2.80M86.50 30.48h2.80M689.10 30.48h-2.80M86.50 25.26h2.80M689.10 25.26h-2.80M86.50 20.75h2.80M689.10 20.75h-2.80M86.50 16.76h2.80M689.10 16.76h-2.80M86.50 13.20h5.60M689.10 13.20h-5.60" stroke="#252525" stroke-width="0.80" fill="none"/>
<rect x="86.50" y="13.20" width="602.60" height="467.20" fill="none" stroke="#252525" stroke-width="1.25"/>
<path d="M888.93 480.40v-2.80M888.93 13.20v2.80M909.86 480.40v-2.80M909.86 13.20v2.80M924.70 480.40v-2.80M924.70 13.20v2.80M936.22 480.40v-2.80M936.22 13.20v2.80M945.63 480.40v-2.80M945.63 13.20v2.80M953.59 480.40v-2.80M953.59 13.20v2.80M960.48 480.40v-2.80M960.48 13.20v2.80M966.56 480.40v-2.80M966.56 13.20v2.80M972.00 480.40v-5.60M972.00 13.20v5.60M1007.78 480.40v-2.80M1007.78 13.20v2.80M1028.71 480.40v-2.80M1028.71 13.20v2.80M1043.55 480.40v-2.80M1043.55 13.20v2.80M1055.07 480.40v-2.80M1055.07 13.20v2.80M1064.48 480.40v-2.80M1064.48 13.20v2.80M1072.44 480.40v-2.80M1072.44 13.20v2.80M1079.33 480.40v-2.80M1079.33 13.20v2.80M1085.41 480.40v-2.80M1085.41 13.20v2.80M1090.85 480.40v-5.60M1090.85 13.20v5.60M1126.63 480.40v-2.80M1126.63 13.20v2.80M1147.56 480.40v-2.80M1147.56 13.20v2.80M1162.40 480.40v-2.80M1162.40 13.20v2.80M1173.92 480.40v-2.80M1173.92 13.20v2.80M1183.33 480.40v-2.80M1183.33 13.20v2.80M1191.29 480.40v-2.80M1191.29 13.20v2.80M1198.18 480.40v-2.80M1198.18 13.20v2.80M1204.26 480.40v-2.80M1204.26 13.20v2.80M1209.70 480.40v-5.60M1209.70 13.20v5.60M1245.48 480.40v-2.80M1245.48 13.20v2.80M1266.41 480.40v-2.80M1266.41 13.20v2.80M1281.25 480.40v-2.80M1281.25 13.20v2.80M1292.77 480.40v-2.80M1292.77 13.20v2.80M1302.18 480.40v-2.80M1302.18 13.20v2.80M1310.14 480.40v-2.80M1310.14 13.20v2.80M1317.03 480.40v-2.80M1317.03 13.20v2.80M1323.11 480.40v-2.80M1323.11 13.20v2.80M1328.55 480.40v-5.60M1328.55 13.20v5.60M1364.33 480.40v-2.80M1364.33 13.20v2.80M1385.26 480.40v-2.80M1385.26 13.20v2.80M1400.10 480.40v-2.80M1400.10 13.20v2.80M1411.62 480.40v-2.80M1411.62 13.20v2.80M1421.03 480.40v-2.80M1421.03 13.20v2.80M1428.99 480.40v-2.80M1428.99 13.20v2.80M1435.88 480.40v-2.80M1435.88 13.20v2.80M1441.96 480.40v-2.80M1441.96 13.20v2.80M1447.40 480.40v-5.60M1447.40 13.20v5.60M1483.18 480.40v-2.80M1483.18 13.20v2.80M879.50 480.40h5.60M1483.70 480.40h-5.60M879.50 450.42h2.80M1483.70 450.42h-2.80M879.50 432.89h2.80M1483.70 432.89h-2.80M879.50 420.45h2.80M1483.70 420.45h-2.80M879.50 410.80h2.80M1483.70 410.80h-2.80M879.50 402.92h2.80M1483.70 402.92h-2.80M879.50 396.25h2.80M1483.70 396.25h-2.80M879.50 390.47h2.80M1483.70 390.47h-2.80M879.50 385.38h2.80M1483.70 385.38h-2.80M879.50 380.83h5.60M1483.70 380.83h-5.60M879.50 350.85h2.80M1483.70 350.85h-2.80M879.50 333.32h2.80M1483.70 333.32h-2.80M879.50 320.87h2.80M1483.70 320.87h-2.80M879.50 311.23h2.80M1483.70 311.23h-2.80M879.50 303.34h2.80M1483.70 303.34h-2.80M879.50 296.67h2.80M1483.70 296.67h-2.80M879.50 290.90h2.80M1483.70 290.90h-2.80M879.50 285.81h2.80M1483.70 285.81h-2.80M879.50 281.25h5.60M1483.70 281.25h-5.60M879.50 251.27h2.80M1483.70 251.27h-2.80M879.50 233.74h2.80M1483.70 233.74h-2.80M879.50 221.30h2.80M1483.70 221.30h-2.80M879.50 211.65h2.80M1483.70 211.65h-2.80M879.50 203.77h2.80M1483.70 203.77h-2.80M879.50 197.10h2.80M1483.70 197.10h-2.80M879.50 191.32h2.80M1483.70 191.32h-2.80M879.50 186.23h2.80M1483.70 186.23h-2.80M879.50 181.68h5.60M1483.70 181.68h-5.60M879.50 151.70h2.80M1483.70 151.70h-2.80M879.50 134.17h2.80M1483.70 134.17h-2.80M879.50 121.72h2.80M1483.70 121.72h-2.80M879.50 112.08h2.80M1483.70 112.08h-2.80M879.50 104.19h2.80M1483.70 104.19h-2.80M879.50 97.52h2.80M1483.70 97.52h-2.80M879.50 91.75h2.80M1483.70 91.75h-2.80M879.50 86.66h2.80M1483.70 86.66h-2.80M879.50 82.10h5.60M1483.70 82.10h-5.60M879.50 52.12h2.80M1483.70 52.12h-2.80M879.50 34.59h2.80M1483.70 34.59h-2.80M879.50 22.15h2.80M1483.70 22.15h-2.80" stroke="#252525" stroke-width="0.80" fill="none"/>
<rect x="879.50" y="13.20" width="604.20" height="467.20" fill="none" stroke="#252525" stroke-width="1.25"/>
<text x="104.6" y="506.9" text-anchor="middle" font-size="20px">10<tspan dy="-8.0" font-size="14px">-5</tspan></text>
<text x="214.9" y="506.9" text-anchor="middle" font-size="20px">10<tspan dy="-8.0" font-size="14px">-4</tspan></text>
<text x="325.2" y="506.9" text-anchor="middle" font-size="20px">10<tspan dy="-8.0" font-size="14px">-3</tspan></text>
<text x="435.5" y="506.9" text-anchor="middle" font-size="20px">10<tspan dy="-8.0" font-size="14px">-2</tspan></text>
<text x="545.8" y="506.9" text-anchor="middle" font-size="20px">10<tspan dy="-8.0" font-size="14px">-1</tspan></text>
<text x="656.1" y="506.9" text-anchor="middle" font-size="20px">10<tspan dy="-8.0" font-size="14px">0</tspan></text>
<text x="80.0" y="20.4" text-anchor="end" font-size="20px">10<tspan dy="-8.0" font-size="14px">-10</tspan></text>
<text x="80.0" y="98.3" text-anchor="end" font-size="20px">10<tspan dy="-8.0" font-size="14px">-11</tspan></text>
<text x="80.0" y="176.1" text-anchor="end" font-size="20px">10<tspan dy="-8.0" font-size="14px">-12</tspan></text>
<text x="80.0" y="254.0" text-anchor="end" font-size="20px">10<tspan dy="-8.0" font-size="14px">-13</tspan></text>
<text x="80.0" y="331.9" text-anchor="end" font-size="20px">10<tspan dy="-8.0" font-size="14px">-14</tspan></text>
<text x="80.0" y="409.8" text-anchor="end" font-size="20px">10<tspan dy="-8.0" font-size="14px">-15</tspan></text>
<text x="80.0" y="487.6" text-anchor="end" font-size="20px">10<tspan dy="-8.0" font-size="14px">-16</tspan></text>
<text x="971.8" y="506.9" text-anchor="middle" font-size="20px">10<tspan dy="-8.0" font-size="14px">-4</tspan></text>
<text x="1090.6" y="506.9" text-anchor="middle" font-size="20px">10<tspan dy="-8.0" font-size="14px">-3</tspan></text>
<text x="1209.5" y="506.9" text-anchor="middle" font-size="20px">10<tspan dy="-8.0" font-size="14px">-2</tspan></text>
<text x="1328.3" y="506.9" text-anchor="middle" font-size="20px">10<tspan dy="-8.0" font-size="14px">-1</tspan></text>
<text x="1447.2" y="506.9" text-anchor="middle" font-size="20px">10<tspan dy="-8.0" font-size="14px">0</tspan></text>
<text x="873.6" y="90.0" text-anchor="end" font-size="20px">10<tspan dy="-8.0" font-size="14px">-11</tspan></text>
<text x="873.6" y="189.6" text-anchor="end" font-size="20px">10<tspan dy="-8.0" font-size="14px">-12</tspan></text>
<text x="873.6" y="289.1" text-anchor="end" font-size="20px">10<tspan dy="-8.0" font-size="14px">-13</tspan></text>
<text x="873.6" y="388.7" text-anchor="end" font-size="20px">10<tspan dy="-8.0" font-size="14px">-14</tspan></text>
<text x="873.6" y="488.3" text-anchor="end" font-size="20px">10<tspan dy="-8.0" font-size="14px">-15</tspan></text>
<text x="317.6" y="532.9" textLength="140.6" font-size="17.2px">Frequency [Hz]</text>
<text x="1110.6" y="532.9" textLength="141.2" font-size="17.2px">Frequency [Hz]</text>
<text transform="translate(17.4,476.6) rotate(-90)" textLength="460" font-size="17.2px">Differential mode acceleration X-axis APS [m/s<tspan dy="-9.6" font-size="12px">2</tspan><tspan dy="9.6" font-size="17.2px"> ]</tspan></text>
<text transform="translate(811.5,476.6) rotate(-90)" textLength="460" font-size="17.2px">Differential mode acceleration X-axis APS [m/s<tspan dy="-9.6" font-size="12px">2</tspan><tspan dy="9.6" font-size="17.2px"> ]</tspan></text>
<rect x="425.3" y="24.7" width="252.9" height="76.9" fill="#fff" stroke="#252525" stroke-width="1.1"/>
<path d="M441.5 43.9H474.4" stroke="#959595" stroke-width="1.50"/>
<path d="M441.5 79H474.4" stroke="#252525" stroke-width="1.50"/>
<text x="499.2" y="51" font-size="23px">Raw data</text>
<text x="499.2" y="85.9" font-size="23px">Corrected data</text>
</svg>
</body></html>
